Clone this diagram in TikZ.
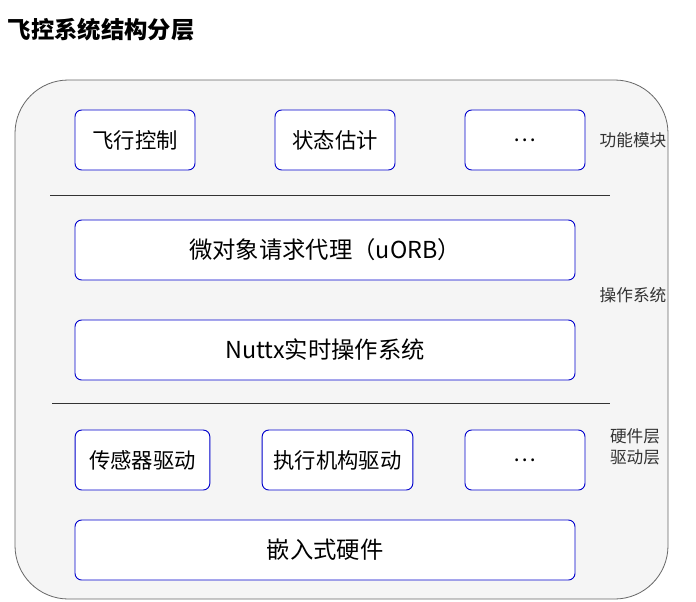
\documentclass[tikz,border=0pt]{standalone}
\usepackage{fontspec}
\setmainfont{Noto Sans CJK SC}
\begin{document}
\begin{tikzpicture}[x=0.75pt,y=-0.75pt,
  box/.style={draw=blue!80!black,fill=white,rounded corners=5pt,line width=0.7pt,font=\fontsize{17.5}{20}\selectfont},
  sbox/.style={box,font=\fontsize{16}{19}\selectfont},
  lbl/.style={font=\fontsize{12.5}{16}\selectfont,text=black!80,align=center}]
\useasboundingbox (0,0) rectangle (696,601);
\node[anchor=west,font=\bfseries\fontsize{17.5}{20}\selectfont] (title) at (3,30) {飞控系统结构分层};
\draw[draw=black!60,fill=black!4,rounded corners=40pt,line width=0.6pt] (15,80) rectangle (668,599);
\node[sbox,minimum width=90pt,minimum height=45pt] (a) at (135,140) {飞行控制};
\node[sbox,minimum width=90pt,minimum height=45pt] (b) at (335,140) {状态估计};
\node[sbox,minimum width=90pt,minimum height=45pt] (c) at (525,140) {…};
\coordinate (l1a) at (50,195); \coordinate (l1b) at (610,195);
\draw[black!80] (l1a) -- (l1b);
\node[box,minimum width=375pt,minimum height=45pt] (u) at (325,250) {微对象请求代理（uORB）};
\node[box,minimum width=375pt,minimum height=45pt] (n) at (325,350) {Nuttx实时操作系统};
\coordinate (l2a) at (52,403); \coordinate (l2b) at (610,403);
\draw[black!80] (l2a) -- (l2b);
\node[sbox,minimum width=101pt,minimum height=45pt] (d) at (142.5,460) {传感器驱动};
\node[sbox,minimum width=113pt,minimum height=45pt] (e) at (337.5,460) {执行机构驱动};
\node[sbox,minimum width=90pt,minimum height=45pt] (f) at (525,460) {…};
\node[box,minimum width=375pt,minimum height=45pt] (h) at (325,550) {嵌入式硬件};
\node[lbl] (m1) at (633,140) {功能模块};
\node[lbl] (m2) at (633,295) {操作系统};
\node[lbl] (m3) at (635,447) {硬件层\\驱动层};
\end{tikzpicture}
\end{document}
